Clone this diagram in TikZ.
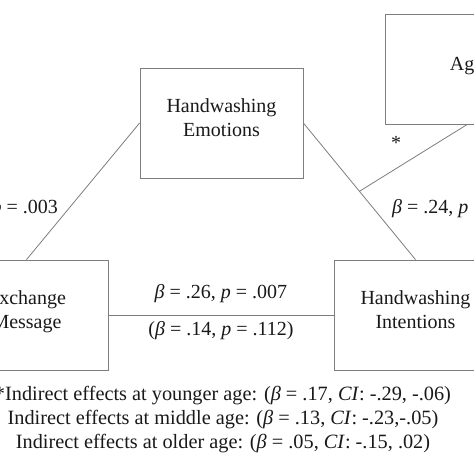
\documentclass[tikz,border=0pt]{standalone}
\usepackage{fontspec}
\setmainfont{Liberation Serif}
\usetikzlibrary{calc}
\definecolor{linegray}{RGB}{125,125,125}
\definecolor{textgray}{RGB}{25,25,25}

\begin{document}
\begin{tikzpicture}[x=1pt, y=-1pt,
  var/.style={draw=linegray, line width=0.8pt, minimum width=163pt, minimum height=110pt,
              inner sep=0pt, align=center, text depth=11pt, text=textgray,
              font=\fontsize{20}{24}\selectfont},
  link/.style={linegray, line width=0.8pt},
  coef/.style={inner sep=0pt, text=textgray, font=\fontsize{20}{24}\selectfont},
]
\useasboundingbox (0,0) rectangle (474,474);
\clip (0,0) rectangle (474,474);

% ---------- variables ----------
\node[var] (emo) at (221.5,123) {Handwashing\\Emotions};
\node[var] (age) at (466.5,69.5) {Age};
\node[var] (msg) at (26.5,315) {Exchange\\Message};
\node[var] (int) at (415.5,315) {Handwashing\\Intentions};

% ---------- paths ----------
\draw[link] (msg.north) -- (emo.west);
\draw[link] (emo.east) -- coordinate[pos=0.5] (mod) (int.north);
\draw[link] (age.south) -- (mod);
\draw[link] (msg.east) --
  node[coef, above=12pt] (c-coef) {\textit{β} = .26, \textit{p} = .007}
  node[coef, below=6pt] (cp-coef) {(\textit{β} = .14, \textit{p} = .112)} (int.west);

% ---------- coefficients ----------
\node[coef, anchor=base east] (a-coef) at (58,213) {\textit{p} = .003};
\node[coef, anchor=base west] (b-coef) at (392,213) {\textit{β} = .24, \textit{p}};
\node[coef] (star) at (396,143) {*};

% ---------- note ----------
\node[coef, align=center, anchor=north, font=\fontsize{20.3}{24}\selectfont] (note) at (223,386)
  {*Indirect effects at younger age: (\textit{β} = .17, \textit{CI}: -.29, -.06)\\
   Indirect effects at middle age: (\textit{β} = .13, \textit{CI}: -.23,-.05)\\
   Indirect effects at older age: (\textit{β} = .05, \textit{CI}: -.15, .02)};

\end{tikzpicture}
\end{document}
